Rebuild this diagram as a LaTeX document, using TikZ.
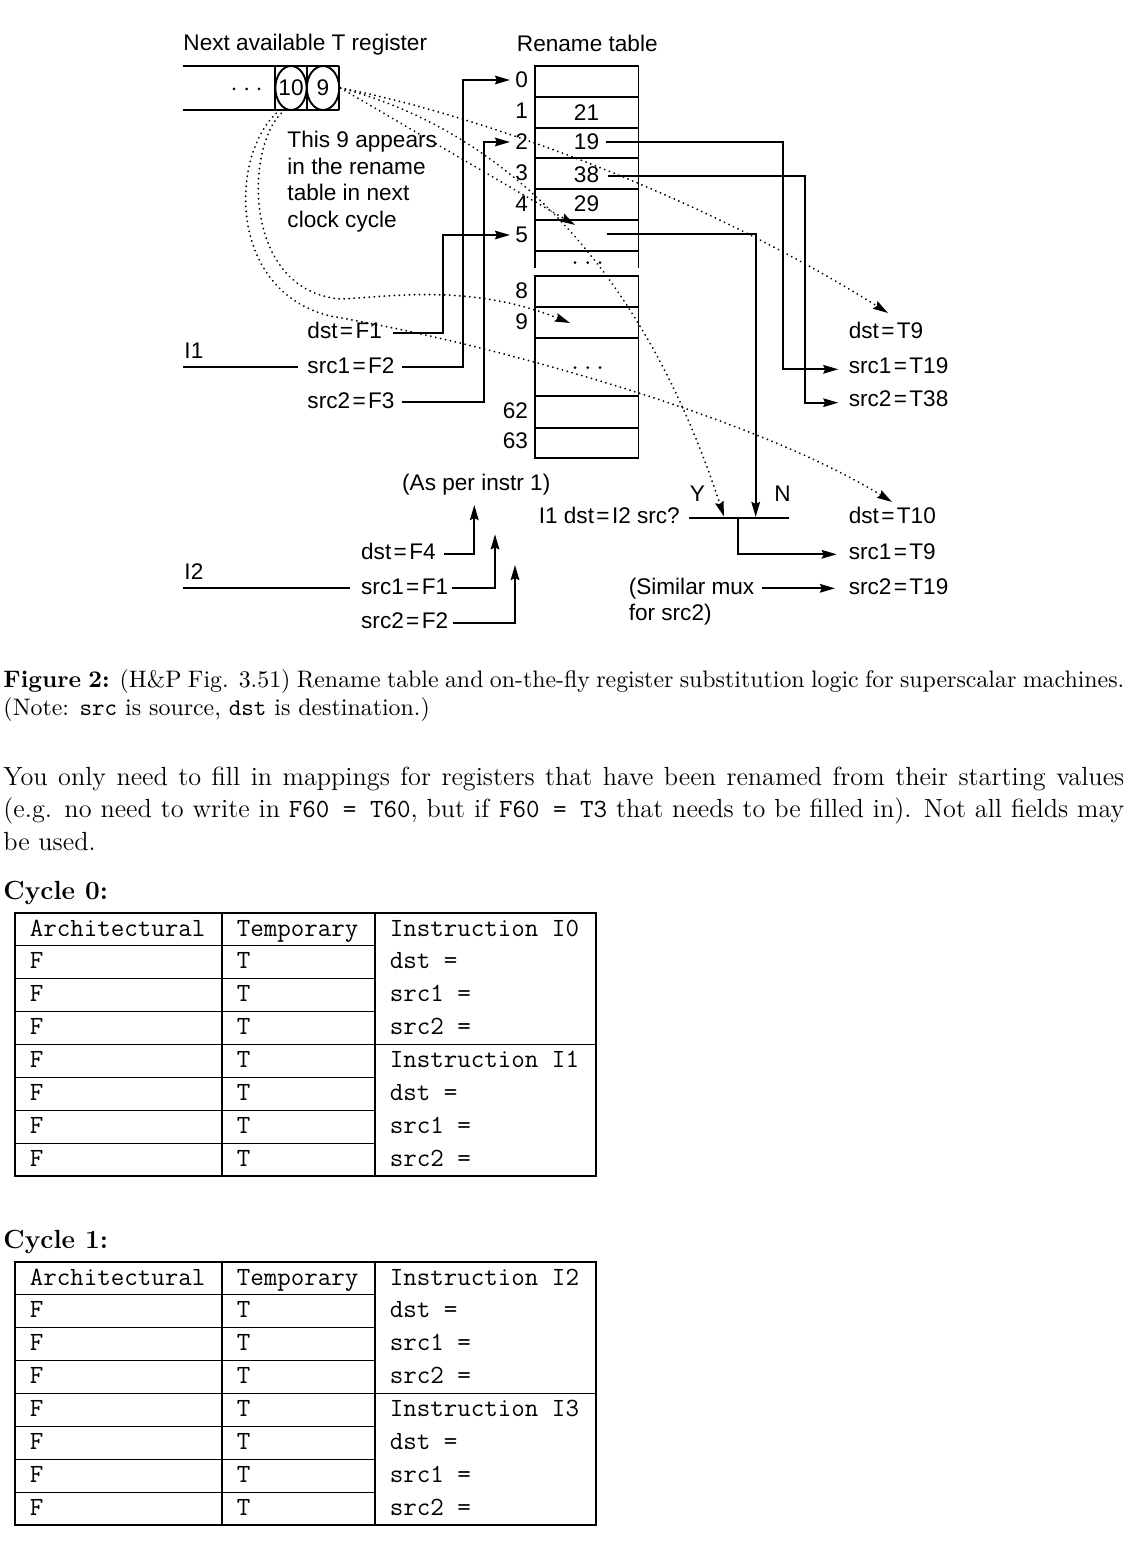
\documentclass[tikz,border=0pt]{standalone}
\usepackage{fontspec}
\usepackage{graphicx}
\newfontfamily\dfont{Liberation Sans}
\usetikzlibrary{arrows.meta}
\newcommand\eqs{\kern1pt=\kern1pt}
\tikzset{
  ln/.style={line width=0.78pt},
  arr/.style={-{Stealth[length=6.3pt,width=3.6pt,inset=0.8pt]}},
  dotln/.style={line width=0.85pt,line cap=round,dash pattern=on 0.01pt off 2.1pt},
  lbl/.style={inner sep=0pt,font=\dfont\fontsize{9.47}{11.1}\selectfont},
  grid/.style={line width=0.45pt,line cap=rect},
  tt/.style={inner sep=0pt,anchor=base west,font=\ttfamily\fontsize{11}{13.6}\selectfont},
  doc/.style={inner sep=0pt,anchor=base west},
}
\begin{document}
\begin{tikzpicture}[x=0.41911pt,y=-0.41911pt]
\fill[white] (0,0) rectangle (1146,1544);
\useasboundingbox (0,0) rectangle (1146,1544);

% ---------- titles
\node[lbl,anchor=base west] (nat) at (183,51) {Next available T register};
\node[lbl,anchor=base west] (rtt) at (516.5,51.7) {Rename table};

% ---------- next available strip
\draw[ln] (183,66) -- (339.3,66) (183,110) -- (339.3,110);
\foreach \xx in {275,306.7,339.3} \draw[ln] (\xx,66) -- (\xx,110);
\node[lbl] (n10) at (291,88) {10};
\node[lbl] (n9) at (323,88) {9};
\draw[ln] (n10.center) ellipse [x radius=15.6, y radius=22];
\draw[ln] (n9.center) ellipse [x radius=16.2, y radius=22];
\foreach \xx in {234,246.7,259} \fill (\xx,89) circle (1.5);

% ---------- rename table
\draw[ln] (535,268) -- (535,66) -- (638.5,66) -- (638.5,268);
\foreach \yy in {97,128,158.3,189.3,220.3,251} \draw[ln] (535,\yy) -- (638.5,\yy);
\draw[ln] (535,275.7) rectangle (638.5,458.3);
\foreach \yy in {306.7,337.7,396,427.7} \draw[ln] (535,\yy) -- (638.5,\yy);
\foreach \xx in {575,587.7,600} {\fill (\xx,262.7) circle (1.5); \fill (\xx,367.7) circle (1.5);}
\foreach \n/\yy in {0/88,1/119,2/150,3/181,4/211.7,5/242.7,8/298.3,9/329.3,62/418.3,63/448.3}
  \node[lbl,anchor=base east] (r\n) at (528.5,\yy) {\n};
\node[lbl,anchor=base] (v21) at (586.5,120.5) {21};
\node[lbl,anchor=base] (v19) at (586.5,150) {19};
\node[lbl,anchor=base] (v38) at (586.5,182.5) {38};
\node[lbl,anchor=base] (v29) at (586.5,211.7) {29};

% ---------- note
\node[lbl,anchor=north west,align=left] (note) at (287,131) {This 9 appears\\in the rename\\table in next\\clock cycle};

% ---------- instruction I1
\node[lbl,anchor=base west] (i1) at (184,358.3) {I1};
\node[lbl,anchor=base west] (dF1) at (307,339) {dst\eqs F1};
\node[lbl,anchor=base west] (s1F2) at (307,373.3) {src1\eqs F2};
\node[lbl,anchor=base west] (s2F3) at (307,408.3) {src2\eqs F3};
\coordinate (i1a) at (183,366.7);
\coordinate (i1b) at (298,366.7);
\draw[ln] (i1a) -- (i1b);
\coordinate (pF1) at (392.7,332.7);
\coordinate (pF2) at (401.7,366.7);
\coordinate (pF3) at (401.7,401.7);
\coordinate (t0) at (510,80);
\coordinate (t2) at (510,142);
\coordinate (t5) at (510,235);
\draw[ln,arr] (pF1) -- (442.7,332.7) |- (t5);
\draw[ln,arr] (pF2) -- (463.3,366.7) |- (t0);
\draw[ln,arr] (pF3) -- (484.3,401.7) |- (t2);

% ---------- outputs for I1
\coordinate (o19) at (606,141.7);
\coordinate (o38) at (608,176);
\coordinate (o5) at (606.7,234.3);
\node[lbl,anchor=base west] (dT9) at (848.3,338.3) {dst\eqs T9};
\node[lbl,anchor=base west] (s1T19) at (848.3,373.3) {src1\eqs T19};
\node[lbl,anchor=base west] (s2T38) at (848.3,406.7) {src2\eqs T38};
\coordinate (a19) at (838.3,369.3);
\coordinate (a38) at (838.3,402.7);
\draw[ln,arr] (o19) -- (783.3,141.7) |- (a19);
\draw[ln,arr] (o38) -- (805,176) |- (a38);

% ---------- mux
\coordinate (muxL) at (689,517.7);
\coordinate (muxR) at (789.3,517.7);
\coordinate (muxO) at (738.3,517.7);
\coordinate (tipN) at (755.7,517);
\coordinate (a9) at (836.7,554.3);
\draw[ln] (muxL) -- (muxR);
\draw[ln,arr] (o5) -| (tipN);
\draw[ln,arr] (muxO) |- (a9);
\node[lbl,anchor=base west] (q) at (538.3,523.3) {I1 dst\eqs I2 src?};
\node[lbl,anchor=base west] (Y) at (689.3,501.7) {Y};
\node[lbl,anchor=base west] (N) at (774,501.7) {N};
\node[lbl,anchor=base west] (dT10) at (848.3,523.3) {dst\eqs T10};
\node[lbl,anchor=base west] (s1T9) at (848.3,559) {src1\eqs T9};
\node[lbl,anchor=base west] (s2T19) at (848.3,594.3) {src2\eqs T19};
\node[lbl,anchor=north west,align=left] (sim) at (628.3,577.5) {(Similar mux\\for src2)};
\coordinate (simA) at (761.7,588.3);
\coordinate (simB) at (835,588.3);
\draw[ln,arr] (simA) -- (simB);

% ---------- instruction I2
\node[lbl,anchor=base west] (asper) at (401.7,490) {(As per instr 1)};
\node[lbl,anchor=base west] (i2) at (184,579.3) {I2};
\coordinate (i2a) at (183,588.3);
\coordinate (i2b) at (350,588.3);
\draw[ln] (i2a) -- (i2b);
\node[lbl,anchor=base west] (dF4) at (360.7,559) {dst\eqs F4};
\node[lbl,anchor=base west] (s1F1) at (360.7,594) {src1\eqs F1};
\node[lbl,anchor=base west] (s2F2) at (360.7,628.3) {src2\eqs F2};
\coordinate (pF4) at (444,554.3);
\coordinate (qF1) at (451.7,588.3);
\coordinate (qF2) at (453,622.7);
\coordinate (u1) at (474.3,505);
\coordinate (u2) at (495,534.3);
\coordinate (u3) at (515,565);
\draw[ln,arr] (pF4) -| (u1);
\draw[ln,arr] (qF1) -| (u2);
\draw[ln,arr] (qF2) -| (u3);

% ---------- dotted paths
\coordinate (c9) at (340.5,88);
\coordinate (c10a) at (285,110);
\coordinate (c10b) at (280,110);
\coordinate (tipT9) at (888,313);
\coordinate (tipR5) at (575,225);
\coordinate (tipY) at (724,516.5);
\coordinate (tipR9) at (570,323);
\coordinate (tipT10) at (892,502);
\draw[dotln,arr] (c9) .. controls (480,115) and (700,195) .. (tipT9);
\draw[dotln,arr] (c9) -- (tipR5);
\draw[dotln,arr] (c9) .. controls (500,130) and (640,260) .. (tipY);
\draw[dotln,arr] (c10a) .. controls (245,140) and (240,290) .. (340,299) .. controls (390,297) and (470,283) .. (tipR9);
\draw[dotln,arr] (c10b) .. controls (230,150) and (225,290) .. (330,316) .. controls (500,345) and (760,420) .. (tipT10);

% ---------- caption and paragraph
\node[doc] (cap) at (3,687) {\parbox[t]{469.75pt}{\fontsize{10}{12}\selectfont \textbf{Figure 2:} (H\&P Fig. 3.51) Rename table and on-the-fly register substitution logic for superscalar machines.\linebreak (Note: \texttt{src} is source, \texttt{dst} is destination.)}};
\node[doc] (par) at (3,785.5) {\parbox[t]{469.75pt}{\fontsize{11}{13.6}\selectfont You only need to fill in mappings for registers that have been renamed from their starting values (e.g. no need to write in \texttt{F60 = T60}, but if \texttt{F60 = T3} that needs to be filled in). Not all fields may be used.}};
\node[doc] (cy0) at (3,899.3) {\fontsize{11}{13.6}\selectfont\bfseries Cycle 0:};
\node[doc] (cy1) at (3,1248.3) {\fontsize{11}{13.6}\selectfont\bfseries Cycle 1:};

% ---------- tables
\def\rh{32.875}
\foreach \T/\k/\ia/\ib in {913/0/I0/I1,1262/1/I2/I3}{
  \draw[grid] (15,\T) -- (596,\T);
  \draw[grid] (15,{\T+4*\rh}) -- (596,{\T+4*\rh});
  \draw[grid] (15,{\T+8*\rh}) -- (596,{\T+8*\rh});
  \foreach \i in {1,2,3,5,6,7} \draw[grid] (15,{\T+\i*\rh}) -- (375,{\T+\i*\rh});
  \foreach \xx in {15,222,375,596} \draw[grid] (\xx,\T) -- (\xx,{\T+8*\rh});
  \node[tt] (ha\k) at (29.3,{\T+23}) {Architectural};
  \node[tt] (hb\k) at (236.3,{\T+23}) {Temporary};
  \foreach \i in {1,...,7} {
    \node[tt] (f\k-\i) at (29.3,{\T+23+\i*\rh}) {F};
    \node[tt] (t\k-\i) at (236.3,{\T+23+\i*\rh}) {T};
  }
  \node[tt] (ia\k) at (389.3,{\T+23}) {Instruction \ia};
  \node[tt] (da\k) at (389.3,{\T+23+\rh}) {dst =};
  \node[tt] (sa\k) at (389.3,{\T+23+2*\rh}) {src1 =};
  \node[tt] (ra\k) at (389.3,{\T+23+3*\rh}) {src2 =};
  \node[tt] (ib\k) at (389.3,{\T+23+4*\rh}) {Instruction \ib};
  \node[tt] (db\k) at (389.3,{\T+23+5*\rh}) {dst =};
  \node[tt] (sb\k) at (389.3,{\T+23+6*\rh}) {src1 =};
  \node[tt] (rb\k) at (389.3,{\T+23+7*\rh}) {src2 =};
}
\end{tikzpicture}
\end{document}
